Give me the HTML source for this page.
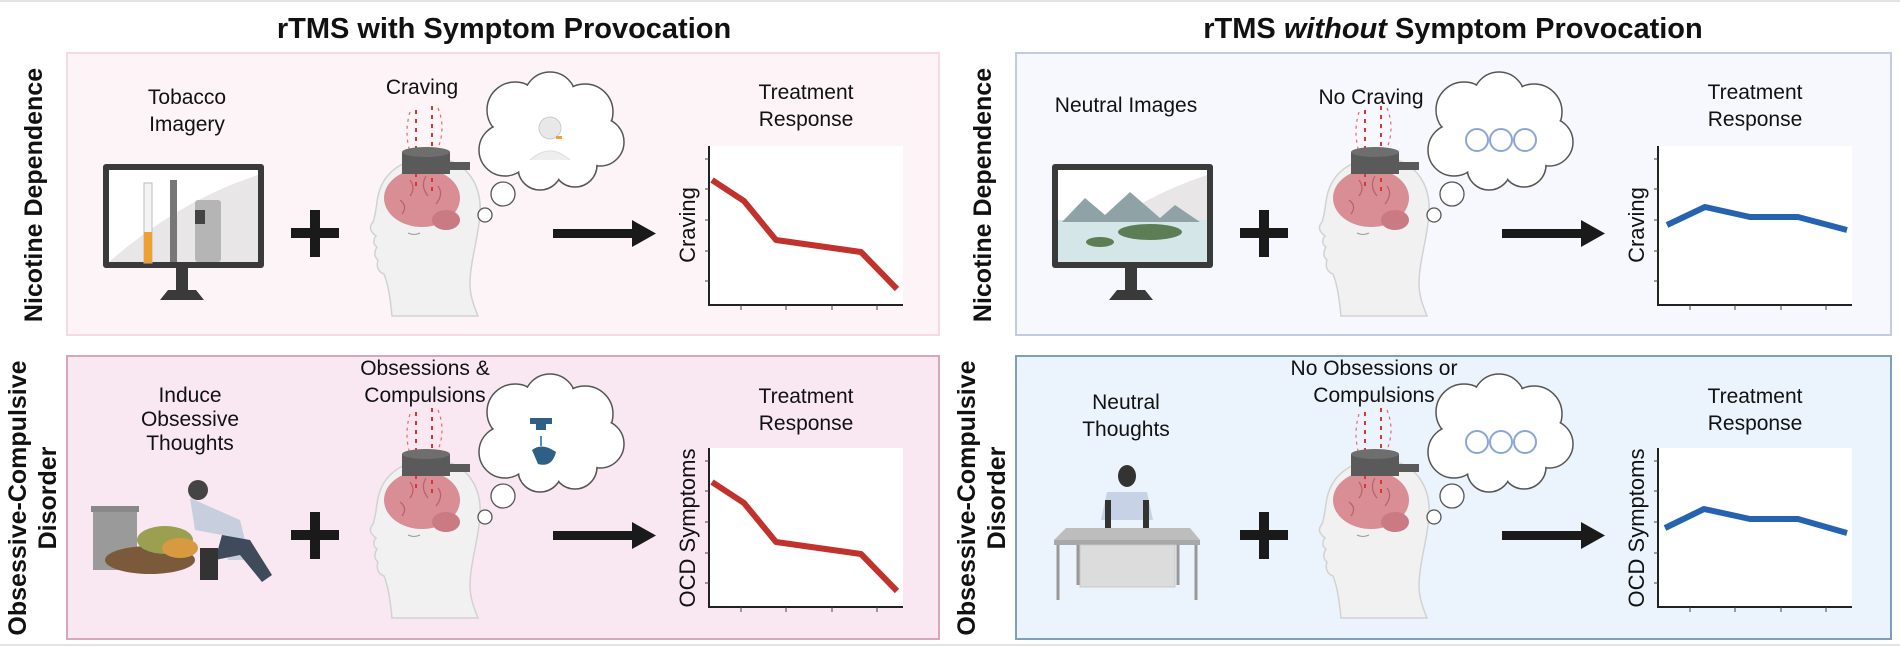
<!DOCTYPE html>
<html><head><meta charset="utf-8"><style>
html,body{margin:0;padding:0;background:#fff;}
svg{display:block;font-family:"Liberation Sans",sans-serif;}
</style></head><body>
<svg width="1900" height="647" viewBox="0 0 1900 647" xmlns="http://www.w3.org/2000/svg">
<defs>
<g id="head">
  <path d="M392,316 C390,296 388,284 384,274 C378,272 376,266 378,260 C373,256 375,250 377,247 C372,244 374,238 376,236 C371,232 368,228 373,222 C376,214 376,206 378,196 C384,168 410,156 436,158 C466,160 482,184 480,214 C478,240 470,262 470,284 C470,296 474,306 478,316 Z" fill="#f1f1f1" stroke="#d2d2d2" stroke-width="1.5"/>
  <ellipse cx="422" cy="198" rx="38" ry="29" fill="#d98d95"/>
  <ellipse cx="446" cy="220" rx="14" ry="10" fill="#c97a83"/>
  <path d="M410,180 q6,8 0,16 M426,176 q-6,10 2,20 M438,186 q6,8 -2,18 M400,200 q8,6 2,14" stroke="#b9606b" stroke-width="1.2" fill="none"/>
  <path d="M416,110 l0,80 M432,106 l0,90" stroke="#d33" stroke-width="2" stroke-dasharray="4,5" fill="none"/>
  <path d="M410,112 q-6,20 0,40 M438,108 q8,20 0,40" stroke="#e66" stroke-width="1.2" stroke-dasharray="3,4" fill="none"/>
  <path d="M402,152 h48 v10 h20 v8 h-20 v4 h-48 Z" fill="#5a5a5a"/>
  <ellipse cx="426" cy="152" rx="24" ry="5" fill="#6e6e6e"/>
  <path d="M408,233 q6,3 12,0" stroke="#999" fill="none"/>
</g>
<g id="cloud">
  <g fill="#fff" stroke="#555" stroke-width="1.5">
    <circle cx="515" cy="110" r="28"/><circle cx="550" cy="98" r="26"/><circle cx="585" cy="112" r="28"/>
    <circle cx="600" cy="142" r="24"/><circle cx="575" cy="165" r="22"/><circle cx="540" cy="168" r="22"/>
    <circle cx="505" cy="150" r="26"/>
  </g>
  <g fill="#fff">
    <circle cx="515" cy="110" r="27"/><circle cx="550" cy="98" r="25"/><circle cx="585" cy="112" r="27"/>
    <circle cx="600" cy="142" r="23"/><circle cx="575" cy="165" r="21"/><circle cx="540" cy="168" r="21"/>
    <circle cx="505" cy="150" r="25"/><ellipse cx="552" cy="135" rx="50" ry="38"/>
  </g>
  <ellipse cx="503" cy="194" rx="12" ry="12" fill="#fff" stroke="#555" stroke-width="1.3"/>
  <ellipse cx="485" cy="215" rx="7" ry="7" fill="#fff" stroke="#555" stroke-width="1.3"/>
</g>
<g id="plusarrow">
  <rect x="291" y="228" width="48" height="10" fill="#1a1a1a"/>
  <rect x="310" y="210" width="10" height="47" fill="#1a1a1a"/>
  <rect x="553" y="229" width="80" height="9" fill="#1a1a1a"/>
  <path d="M632,220 L656,233.5 L632,247 Z" fill="#1a1a1a"/>
</g>
<g id="axes">
  <rect x="709" y="146" width="194" height="159" fill="#fff"/>
  <path d="M709,146 V305 H903" stroke="#222" stroke-width="2" fill="none"/>
  <path d="M705,159 h4 M705,189 h4 M705,220 h4 M705,251 h4 M705,281 h4 M741,305 v5 M786,305 v5 M832,305 v5 M877,305 v5" stroke="#444" stroke-width="1"/>
</g>
</defs>

<line x1="0" y1="1" x2="1900" y2="1" stroke="#e4e4e4" stroke-width="2"/>
<line x1="0" y1="645" x2="1900" y2="645" stroke="#e4e4e4" stroke-width="2"/>

<text x="504" y="38" font-size="29" font-weight="bold" text-anchor="middle" fill="#111">rTMS with Symptom Provocation</text>
<text x="1453" y="38" font-size="29" font-weight="bold" text-anchor="middle" fill="#111">rTMS <tspan font-style="italic">without</tspan> Symptom Provocation</text>

<rect x="67" y="53" width="872" height="282" fill="#fdf4f8" stroke="#f6d9e4" stroke-width="2"/>
<rect x="67" y="356" width="872" height="283" fill="#f9e8f2" stroke="#d6a6bb" stroke-width="2"/>
<rect x="1016" y="53" width="875" height="282" fill="#f7f8fd" stroke="#c3cbe2" stroke-width="2"/>
<rect x="1016" y="356" width="875" height="283" fill="#ebf4fc" stroke="#7f9dbd" stroke-width="2"/>

<g font-weight="bold" fill="#111" font-size="25" text-anchor="middle">
<text transform="translate(42,195) rotate(-90)">Nicotine Dependence</text>
<text transform="translate(991,195) rotate(-90)">Nicotine Dependence</text>
<text transform="translate(26,498) rotate(-90)">Obsessive-Compulsive</text>
<text transform="translate(56,498) rotate(-90)">Disorder</text>
<text transform="translate(975,498) rotate(-90)">Obsessive-Compulsive</text>
<text transform="translate(1005,498) rotate(-90)">Disorder</text>
</g>

<!-- top-left -->
<g font-size="21" fill="#111" text-anchor="middle">
<text x="187" y="104">Tobacco</text><text x="187" y="131">Imagery</text>
<text x="422" y="94">Craving</text>
<text x="806" y="99">Treatment</text><text x="806" y="126">Response</text>
</g>
<rect x="103" y="164" width="161" height="104" rx="3" fill="#3a3a3a"/>
<rect x="109" y="170" width="149" height="92" fill="#fff"/>
<path d="M109,262 Q180,200 258,175 V262 Z" fill="#e8e6e6"/>
<rect x="176" y="268" width="12" height="24" fill="#3a3a3a"/>
<path d="M160,300 L168,290 H196 L204,300 Z" fill="#3a3a3a"/>
<rect x="144" y="183" width="8" height="80" fill="#f4f4f4" stroke="#bbb"/>
<rect x="144" y="232" width="8" height="31" fill="#f0a030"/>
<rect x="170" y="180" width="7" height="82" fill="#777"/>
<rect x="195" y="200" width="26" height="62" rx="3" fill="#b5b5b5"/>
<rect x="195" y="210" width="10" height="14" fill="#444"/>
<use href="#head"/>
<use href="#cloud"/>
<circle cx="550" cy="128" r="11" fill="#e8e8e8" stroke="#ccc"/>
<path d="M530,160 q20,-18 40,0" fill="#eee" stroke="#ddd"/>
<rect x="556" y="136" width="6" height="3" fill="#f0a030"/>
<use href="#plusarrow"/>
<use href="#axes"/>
<text transform="translate(695,225) rotate(-90)" font-size="22" text-anchor="middle" fill="#111">Craving</text>
<polyline points="712,180 744,201 776,240 861,252 897,289" fill="none" stroke="#c0322b" stroke-width="6" stroke-linejoin="round"/>

<!-- bottom-left -->
<g font-size="21" fill="#111" text-anchor="middle">
<text x="190" y="402">Induce</text><text x="190" y="426">Obsessive</text><text x="190" y="450">Thoughts</text>
<text x="425" y="375">Obsessions &amp;</text><text x="425" y="402">Compulsions</text>
<text x="806" y="403">Treatment</text><text x="806" y="430">Response</text>
</g>
<rect x="93" y="510" width="44" height="60" fill="#9a9a9a"/>
<rect x="91" y="506" width="48" height="6" fill="#888"/>
<ellipse cx="150" cy="560" rx="45" ry="14" fill="#7a5a3a"/>
<ellipse cx="165" cy="540" rx="28" ry="14" fill="#9aa050"/>
<ellipse cx="180" cy="548" rx="18" ry="10" fill="#d89a40"/>
<circle cx="198" cy="490" r="10" fill="#444"/>
<path d="M190,498 L240,520 L250,560 L228,560 L222,535 L195,530 Z" fill="#c7cfdf"/>
<path d="M222,535 L250,540 L272,575 L262,582 L240,555 L215,560 Z" fill="#3f4a5a"/>
<rect x="200" y="548" width="18" height="32" fill="#333"/>
<g transform="translate(0,302)"><use href="#head"/><use href="#cloud"/><use href="#plusarrow"/><use href="#axes"/></g>
<path d="M530,418 h22 v6 h-6 v6 h-10 v-6 h-6 Z" fill="#2e5f86"/>
<path d="M541,436 l0,10" stroke="#4a90c0" stroke-width="2"/>
<path d="M532,450 q10,-8 24,2 q-4,16 -18,12 Z" fill="#2e5f86"/>
<text transform="translate(695,528) rotate(-90)" font-size="22" text-anchor="middle" fill="#111">OCD Symptoms</text>
<polyline points="712,482 744,503 776,542 861,554 897,591" fill="none" stroke="#c0322b" stroke-width="6" stroke-linejoin="round"/>

<!-- top-right -->
<g font-size="21" fill="#111" text-anchor="middle">
<text x="1126" y="112">Neutral Images</text>
<text x="1371" y="104">No Craving</text>
<text x="1755" y="99">Treatment</text><text x="1755" y="126">Response</text>
</g>
<rect x="1052" y="164" width="161" height="104" rx="3" fill="#3a3a3a"/>
<rect x="1058" y="170" width="149" height="92" fill="#fff"/>
<path d="M1058,262 Q1130,200 1207,175 V262 Z" fill="#e8e6e6"/>
<rect x="1058" y="220" width="149" height="42" fill="#d4e6e8"/>
<path d="M1062,222 L1085,198 L1105,215 L1130,192 L1160,218 L1175,205 L1200,222 Z" fill="#8fa3a6"/>
<ellipse cx="1150" cy="232" rx="32" ry="8" fill="#5d7d55"/>
<ellipse cx="1100" cy="242" rx="14" ry="5" fill="#5d7d55"/>
<rect x="1125" y="268" width="12" height="24" fill="#3a3a3a"/>
<path d="M1109,300 L1117,290 H1145 L1153,300 Z" fill="#3a3a3a"/>
<g transform="translate(949,0)"><use href="#head"/><use href="#cloud"/><use href="#plusarrow"/><use href="#axes"/></g>
<g fill="none" stroke="#8aa6d8" stroke-width="2"><circle cx="1477" cy="140" r="11"/><circle cx="1501" cy="140" r="11"/><circle cx="1525" cy="140" r="11"/></g>
<text transform="translate(1644,225) rotate(-90)" font-size="22" text-anchor="middle" fill="#111">Craving</text>
<polyline points="1667,225 1705,207 1750,217 1798,217 1847,230" fill="none" stroke="#2563b0" stroke-width="6" stroke-linejoin="round"/>

<!-- bottom-right -->
<g font-size="21" fill="#111" text-anchor="middle">
<text x="1126" y="409">Neutral</text><text x="1126" y="436">Thoughts</text>
<text x="1374" y="375">No Obsessions or</text><text x="1374" y="402">Compulsions</text>
<text x="1755" y="403">Treatment</text><text x="1755" y="430">Response</text>
</g>
<ellipse cx="1127" cy="476" rx="9" ry="11" fill="#333"/>
<path d="M1107,492 h40 l6,28 h-52 Z" fill="#c8d2e6"/>
<rect x="1105" y="500" width="6" height="28" fill="#333"/><rect x="1143" y="500" width="6" height="28" fill="#333"/>
<path d="M1054,540 L1066,528 H1190 L1200,540 Z" fill="#bdbdbd"/>
<rect x="1054" y="540" width="146" height="5" fill="#a8a8a8"/>
<rect x="1080" y="545" width="95" height="42" fill="#dcdcdc" stroke="#c7c7c7"/>
<path d="M1058,545 V600 M1196,545 V600 M1078,545 V585 M1178,545 V585" stroke="#999" stroke-width="3"/>
<g transform="translate(949,302)"><use href="#head"/><use href="#cloud"/><use href="#plusarrow"/><use href="#axes"/></g>
<g fill="none" stroke="#8aa6d8" stroke-width="2"><circle cx="1477" cy="442" r="11"/><circle cx="1501" cy="442" r="11"/><circle cx="1525" cy="442" r="11"/></g>
<text transform="translate(1644,528) rotate(-90)" font-size="22" text-anchor="middle" fill="#111">OCD Symptoms</text>
<polyline points="1665,528 1704,509 1750,519 1798,519 1847,533" fill="none" stroke="#2563b0" stroke-width="6" stroke-linejoin="round"/>
</svg>
</body></html>
